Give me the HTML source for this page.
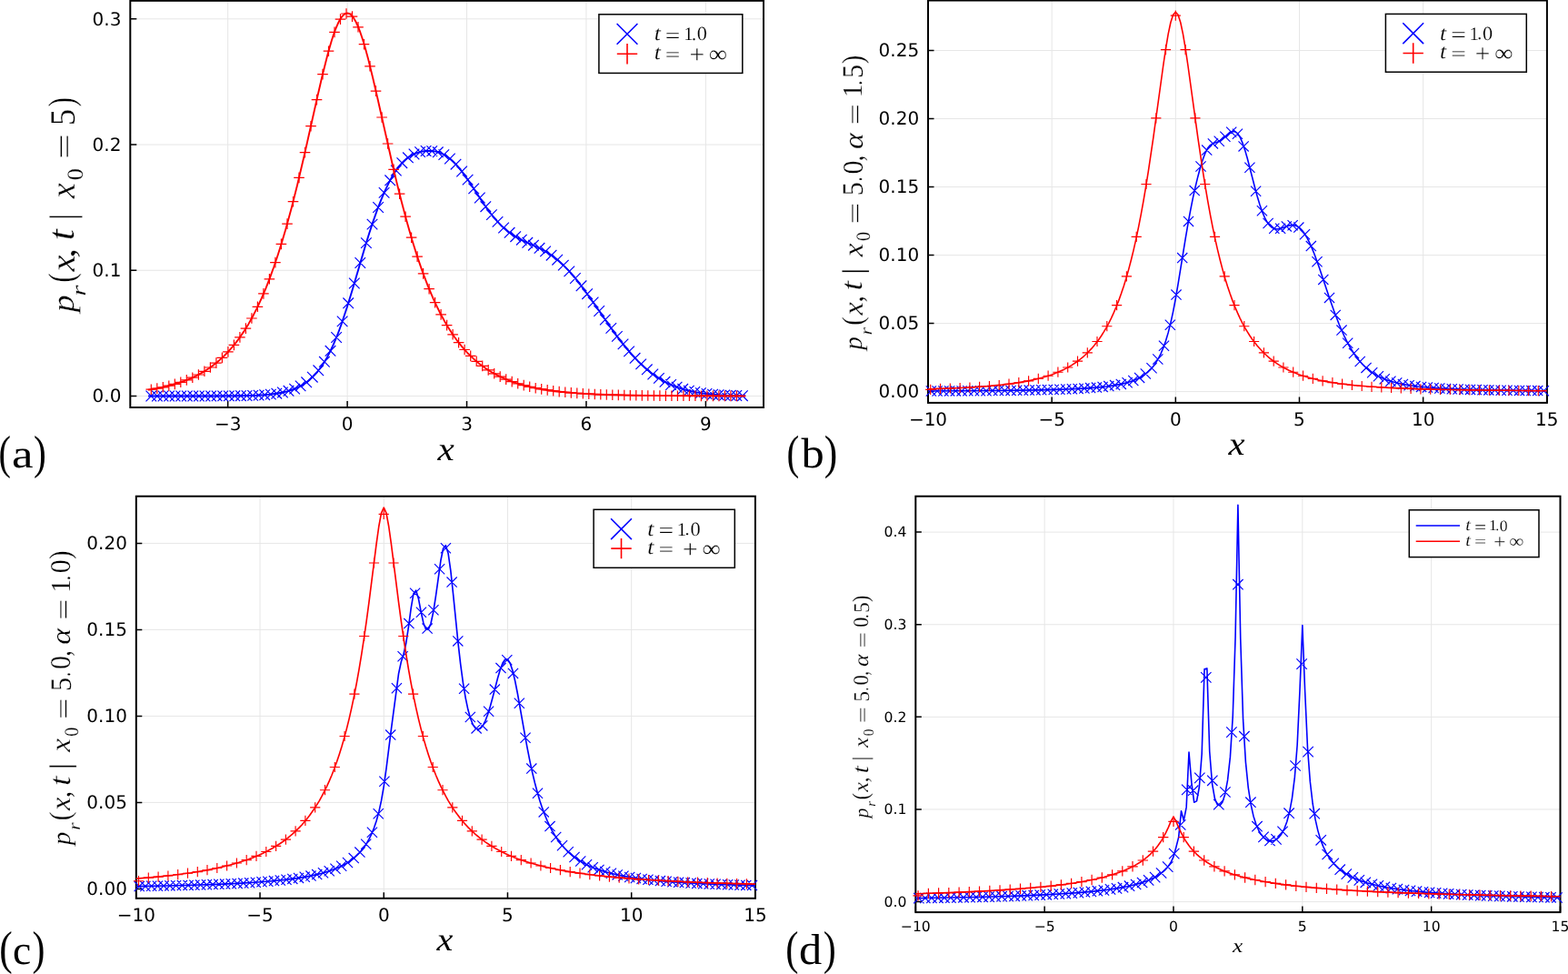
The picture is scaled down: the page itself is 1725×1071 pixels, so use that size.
<!DOCTYPE html>
<html><head><meta charset="utf-8"><title>Resetting densities</title>
<style>html,body{margin:0;padding:0;background:#fff;overflow:hidden} svg{display:block}</style></head>
<body><svg width="1725" height="1071" viewBox="0 0 1725 1071" text-rendering="geometricPrecision">
<rect width="1725" height="1071" fill="#fff"/>
<g font-family="'DejaVu Sans', 'Liberation Sans', sans-serif"><line x1="250.67" y1="0.8" x2="250.67" y2="448.0" stroke="#e6e6e6" stroke-width="1"/><line x1="382.10" y1="0.8" x2="382.10" y2="448.0" stroke="#e6e6e6" stroke-width="1"/><line x1="513.53" y1="0.8" x2="513.53" y2="448.0" stroke="#e6e6e6" stroke-width="1"/><line x1="644.96" y1="0.8" x2="644.96" y2="448.0" stroke="#e6e6e6" stroke-width="1"/><line x1="776.39" y1="0.8" x2="776.39" y2="448.0" stroke="#e6e6e6" stroke-width="1"/><line x1="143.3" y1="435.50" x2="840.0" y2="435.50" stroke="#e6e6e6" stroke-width="1"/><line x1="143.3" y1="297.28" x2="840.0" y2="297.28" stroke="#e6e6e6" stroke-width="1"/><line x1="143.3" y1="159.06" x2="840.0" y2="159.06" stroke="#e6e6e6" stroke-width="1"/><line x1="143.3" y1="20.84" x2="840.0" y2="20.84" stroke="#e6e6e6" stroke-width="1"/><rect x="143.3" y="0.8" width="696.70" height="447.20" fill="none" stroke="#000" stroke-width="2"/><path d="M250.67 448.0v-7M382.10 448.0v-7M513.53 448.0v-7M644.96 448.0v-7M776.39 448.0v-7M143.3 435.50h7M143.3 297.28h7M143.3 159.06h7M143.3 20.84h7" stroke="#000" stroke-width="1.5"/><polyline points="163.05,435.50 232.27,435.47 261.18,435.28 272.36,435.06 281.78,434.73 289.88,434.26 296.89,433.66 304.34,432.71 310.91,431.52 316.82,430.06 322.30,428.27 327.56,426.06 332.38,423.49 336.98,420.47 341.14,417.15 345.08,413.42 349.02,409.04 352.75,404.21 356.47,398.65 359.98,392.68 363.48,385.95 366.99,378.42 370.49,370.07 373.12,363.27 375.97,355.40 381.88,337.57 387.36,319.66 401.81,270.63 406.20,256.53 410.36,243.87 414.96,230.86 419.34,219.55 423.72,209.35 428.10,200.31 430.51,195.84 432.92,191.73 435.33,187.98 437.74,184.59 440.15,181.55 442.56,178.86 444.97,176.48 447.60,174.24 450.22,172.33 453.07,170.60 455.92,169.20 458.77,168.07 461.83,167.14 465.12,166.44 468.41,166.01 471.69,165.86 475.63,166.06 479.36,166.66 483.08,167.71 486.59,169.14 490.09,171.05 493.38,173.28 496.66,175.96 500.17,179.30 502.80,182.11 505.64,185.45 508.71,189.34 511.78,193.51 517.47,201.78 531.93,223.73 536.09,229.69 539.82,234.73 543.98,239.94 547.92,244.43 551.86,248.48 556.03,252.26 559.09,254.74 562.38,257.13 565.88,259.41 569.39,261.45 575.96,264.78 592.83,272.50 597.65,275.02 602.25,277.72 607.06,280.93 611.88,284.57 616.70,288.69 621.30,293.07 625.90,297.88 630.50,303.09 635.32,308.96 640.36,315.47 649.78,328.45 673.87,363.02 681.10,372.82 687.67,381.20 694.90,389.72 701.91,397.19 708.92,403.85 715.93,409.68 720.75,413.22 725.57,416.39 730.39,419.20 735.43,421.79 740.68,424.14 745.94,426.15 751.42,427.92 757.11,429.46 763.03,430.77 769.16,431.87 775.73,432.79 782.96,433.56 790.85,434.18 799.39,434.64 820.20,435.22" fill="none" stroke="#0000ff" stroke-width="1.9" stroke-linejoin="round"/><path d="M160.5 429.7l11.6 11.6M160.5 441.3l11.6 -11.6M167.1 429.7l11.6 11.6M167.1 441.3l11.6 -11.6M173.7 429.7l11.6 11.6M173.7 441.3l11.6 -11.6M180.3 429.7l11.6 11.6M180.3 441.3l11.6 -11.6M186.8 429.7l11.6 11.6M186.8 441.3l11.6 -11.6M193.4 429.7l11.6 11.6M193.4 441.3l11.6 -11.6M200.0 429.7l11.6 11.6M200.0 441.3l11.6 -11.6M206.5 429.7l11.6 11.6M206.5 441.3l11.6 -11.6M213.1 429.7l11.6 11.6M213.1 441.3l11.6 -11.6M219.7 429.7l11.6 11.6M219.7 441.3l11.6 -11.6M226.3 429.7l11.6 11.6M226.3 441.3l11.6 -11.6M232.8 429.6l11.6 11.6M232.8 441.2l11.6 -11.6M239.4 429.6l11.6 11.6M239.4 441.2l11.6 -11.6M246.0 429.6l11.6 11.6M246.0 441.2l11.6 -11.6M252.5 429.5l11.6 11.6M252.5 441.1l11.6 -11.6M259.1 429.4l11.6 11.6M259.1 441.0l11.6 -11.6M265.7 429.3l11.6 11.6M265.7 440.9l11.6 -11.6M272.3 429.1l11.6 11.6M272.3 440.7l11.6 -11.6M278.8 428.8l11.6 11.6M278.8 440.4l11.6 -11.6M285.4 428.4l11.6 11.6M285.4 440.0l11.6 -11.6M292.0 427.8l11.6 11.6M292.0 439.4l11.6 -11.6M298.5 426.9l11.6 11.6M298.5 438.5l11.6 -11.6M305.1 425.7l11.6 11.6M305.1 437.3l11.6 -11.6M311.7 424.0l11.6 11.6M311.7 435.6l11.6 -11.6M318.3 421.8l11.6 11.6M318.3 433.4l11.6 -11.6M324.8 418.6l11.6 11.6M324.8 430.2l11.6 -11.6M331.4 414.5l11.6 11.6M331.4 426.1l11.6 -11.6M338.0 408.9l11.6 11.6M338.0 420.5l11.6 -11.6M344.5 401.5l11.6 11.6M344.5 413.1l11.6 -11.6M351.1 392.0l11.6 11.6M351.1 403.6l11.6 -11.6M357.7 380.0l11.6 11.6M357.7 391.6l11.6 -11.6M364.3 365.2l11.6 11.6M364.3 376.8l11.6 -11.6M370.8 347.6l11.6 11.6M370.8 359.2l11.6 -11.6M377.4 327.5l11.6 11.6M377.4 339.1l11.6 -11.6M384.0 305.7l11.6 11.6M384.0 317.3l11.6 -11.6M390.5 283.2l11.6 11.6M390.5 294.8l11.6 -11.6M397.1 261.3l11.6 11.6M397.1 272.9l11.6 -11.6M403.7 240.8l11.6 11.6M403.7 252.4l11.6 -11.6M410.3 222.2l11.6 11.6M410.3 233.8l11.6 -11.6M416.8 206.1l11.6 11.6M416.8 217.7l11.6 -11.6M423.4 192.5l11.6 11.6M423.4 204.1l11.6 -11.6M430.0 181.7l11.6 11.6M430.0 193.3l11.6 -11.6M436.5 173.4l11.6 11.6M436.5 185.0l11.6 -11.6M443.1 167.5l11.6 11.6M443.1 179.1l11.6 -11.6M449.7 163.7l11.6 11.6M449.7 175.3l11.6 -11.6M456.3 161.3l11.6 11.6M456.3 172.9l11.6 -11.6M462.8 160.2l11.6 11.6M462.8 171.8l11.6 -11.6M469.4 160.3l11.6 11.6M469.4 171.9l11.6 -11.6M476.0 161.5l11.6 11.6M476.0 173.1l11.6 -11.6M482.5 164.3l11.6 11.6M482.5 175.9l11.6 -11.6M489.1 168.7l11.6 11.6M489.1 180.3l11.6 -11.6M495.7 174.9l11.6 11.6M495.7 186.5l11.6 -11.6M502.3 182.7l11.6 11.6M502.3 194.3l11.6 -11.6M508.8 191.8l11.6 11.6M508.8 203.4l11.6 -11.6M515.4 201.6l11.6 11.6M515.4 213.2l11.6 -11.6M522.0 211.7l11.6 11.6M522.0 223.3l11.6 -11.6M528.5 221.4l11.6 11.6M528.5 233.0l11.6 -11.6M535.1 230.3l11.6 11.6M535.1 241.9l11.6 -11.6M541.7 238.1l11.6 11.6M541.7 249.7l11.6 -11.6M548.3 244.7l11.6 11.6M548.3 256.3l11.6 -11.6M554.8 250.0l11.6 11.6M554.8 261.6l11.6 -11.6M561.4 254.4l11.6 11.6M561.4 266.0l11.6 -11.6M568.0 257.9l11.6 11.6M568.0 269.5l11.6 -11.6M574.5 261.0l11.6 11.6M574.5 272.6l11.6 -11.6M581.1 263.9l11.6 11.6M581.1 275.5l11.6 -11.6M587.7 267.0l11.6 11.6M587.7 278.6l11.6 -11.6M594.3 270.6l11.6 11.6M594.3 282.2l11.6 -11.6M600.8 274.9l11.6 11.6M600.8 286.5l11.6 -11.6M607.4 279.9l11.6 11.6M607.4 291.5l11.6 -11.6M614.0 285.8l11.6 11.6M614.0 297.4l11.6 -11.6M620.5 292.6l11.6 11.6M620.5 304.2l11.6 -11.6M627.1 300.2l11.6 11.6M627.1 311.8l11.6 -11.6M633.7 308.5l11.6 11.6M633.7 320.1l11.6 -11.6M640.3 317.4l11.6 11.6M640.3 329.0l11.6 -11.6M646.8 326.7l11.6 11.6M646.8 338.3l11.6 -11.6M653.4 336.2l11.6 11.6M653.4 347.8l11.6 -11.6M660.0 345.7l11.6 11.6M660.0 357.3l11.6 -11.6M666.5 355.1l11.6 11.6M666.5 366.7l11.6 -11.6M673.1 364.1l11.6 11.6M673.1 375.7l11.6 -11.6M679.7 372.6l11.6 11.6M679.7 384.2l11.6 -11.6M686.3 380.6l11.6 11.6M686.3 392.2l11.6 -11.6M692.8 388.0l11.6 11.6M692.8 399.6l11.6 -11.6M699.4 394.6l11.6 11.6M699.4 406.2l11.6 -11.6M706.0 400.5l11.6 11.6M706.0 412.1l11.6 -11.6M712.5 405.7l11.6 11.6M712.5 417.3l11.6 -11.6M719.1 410.1l11.6 11.6M719.1 421.7l11.6 -11.6M725.7 414.0l11.6 11.6M725.7 425.6l11.6 -11.6M732.3 417.2l11.6 11.6M732.3 428.8l11.6 -11.6M738.8 419.9l11.6 11.6M738.8 431.5l11.6 -11.6M745.4 422.0l11.6 11.6M745.4 433.6l11.6 -11.6M752.0 423.8l11.6 11.6M752.0 435.4l11.6 -11.6M758.5 425.2l11.6 11.6M758.5 436.8l11.6 -11.6M765.1 426.3l11.6 11.6M765.1 437.9l11.6 -11.6M771.7 427.2l11.6 11.6M771.7 438.8l11.6 -11.6M778.3 427.9l11.6 11.6M778.3 439.5l11.6 -11.6M784.8 428.4l11.6 11.6M784.8 440.0l11.6 -11.6M791.4 428.7l11.6 11.6M791.4 440.3l11.6 -11.6M798.0 429.0l11.6 11.6M798.0 440.6l11.6 -11.6M804.5 429.2l11.6 11.6M804.5 440.8l11.6 -11.6M811.1 429.4l11.6 11.6M811.1 441.0l11.6 -11.6" stroke="#0000ff" stroke-width="1.2" fill="none"/><polyline points="163.05,428.77 173.78,426.91 183.64,424.76 192.84,422.27 201.60,419.37 209.93,416.04 217.59,412.38 224.82,408.31 231.83,403.69 238.62,398.50 244.97,392.90 251.11,386.72 257.02,379.95 262.72,372.58 268.19,364.64 273.45,356.13 278.71,346.69 283.31,337.58 287.91,327.65 292.51,316.81 296.89,305.62 301.27,293.54 305.65,280.53 310.03,266.57 314.19,252.43 320.55,229.18 327.12,203.15 335.00,169.67 349.02,107.21 354.28,84.49 359.98,61.68 362.39,52.88 364.80,44.75 367.20,37.37 369.40,31.42 371.59,26.26 373.78,21.96 375.97,18.60 377.94,16.41 379.03,15.55 380.13,14.94 381.22,14.60 382.10,14.52 383.20,14.65 384.29,15.04 385.39,15.70 386.48,16.61 387.58,17.78 388.67,19.19 391.08,23.15 393.49,28.22 395.90,34.30 398.53,41.97 401.16,50.59 405.32,65.87 410.14,85.41 415.18,107.21 431.17,178.23 436.64,201.35 441.68,221.58 447.60,243.84 453.29,263.67 458.99,281.87 464.90,299.09 470.82,314.65 476.95,329.12 480.02,335.76 483.30,342.45 486.37,348.33 489.65,354.25 492.94,359.79 496.44,365.31 499.95,370.45 503.45,375.23 506.96,379.68 510.68,384.06 514.41,388.11 518.35,392.06 522.51,395.89 526.67,399.39 531.05,402.75 535.44,405.80 540.04,408.71 544.85,411.45 549.67,413.92 554.71,416.23 559.97,418.39 565.44,420.38 571.14,422.20 577.05,423.87 583.19,425.38 589.76,426.78 596.77,428.06 604.00,429.19 618.45,430.96 634.66,432.36 653.06,433.44 674.31,434.23 698.63,434.77 728.64,435.13 820.20,435.45" fill="none" stroke="#ff0000" stroke-width="1.9" stroke-linejoin="round"/><path d="M160.5 428.2h11.6M166.3 422.4v11.6M167.0 427.1h11.6M172.8 421.3v11.6M173.5 425.8h11.6M179.3 420.0v11.6M180.0 424.2h11.6M185.8 418.4v11.6M186.5 422.4h11.6M192.3 416.6v11.6M193.0 420.3h11.6M198.8 414.5v11.6M199.5 417.9h11.6M205.3 412.1v11.6M206.0 415.2h11.6M211.8 409.4v11.6M212.6 412.0h11.6M218.4 406.2v11.6M219.1 408.3h11.6M224.9 402.5v11.6M225.6 404.0h11.6M231.4 398.2v11.6M232.1 399.1h11.6M237.9 393.3v11.6M238.6 393.4h11.6M244.4 387.6v11.6M245.1 386.9h11.6M250.9 381.1v11.6M251.6 379.4h11.6M257.4 373.6v11.6M258.1 370.9h11.6M263.9 365.1v11.6M264.6 361.1h11.6M270.4 355.3v11.6M271.1 350.0h11.6M276.9 344.2v11.6M277.6 337.3h11.6M283.4 331.5v11.6M284.1 322.9h11.6M289.9 317.1v11.6M290.6 306.8h11.6M296.4 301.0v11.6M297.1 288.6h11.6M302.9 282.8v11.6M303.6 268.4h11.6M309.4 262.6v11.6M310.2 246.1h11.6M316.0 240.3v11.6M316.7 221.7h11.6M322.5 215.9v11.6M323.2 195.4h11.6M329.0 189.6v11.6M329.7 167.6h11.6M335.5 161.8v11.6M336.2 138.7h11.6M342.0 132.9v11.6M342.7 109.6h11.6M348.5 103.8v11.6M349.2 81.6h11.6M355.0 75.8v11.6M355.7 56.2h11.6M361.5 50.4v11.6M362.2 35.4h11.6M368.0 29.6v11.6M368.7 21.1h11.6M374.5 15.3v11.6M375.2 15.0h11.6M381.0 9.2v11.6M381.7 18.1h11.6M387.5 12.3v11.6M388.2 29.8h11.6M394.0 24.0v11.6M394.7 48.7h11.6M400.5 42.9v11.6M401.2 72.8h11.6M407.0 67.0v11.6M407.7 100.1h11.6M413.5 94.3v11.6M414.3 129.0h11.6M420.1 123.2v11.6M420.8 158.0h11.6M426.6 152.2v11.6M427.3 186.3h11.6M433.1 180.5v11.6M433.8 213.2h11.6M439.6 207.4v11.6M440.3 238.2h11.6M446.1 232.4v11.6M446.8 261.2h11.6M452.6 255.4v11.6M453.3 282.1h11.6M459.1 276.3v11.6M459.8 300.9h11.6M465.6 295.1v11.6M466.3 317.7h11.6M472.1 311.9v11.6M472.8 332.7h11.6M478.6 326.9v11.6M479.3 345.9h11.6M485.1 340.1v11.6M485.8 357.6h11.6M491.6 351.8v11.6M492.3 367.8h11.6M498.1 362.0v11.6M498.8 376.7h11.6M504.6 370.9v11.6M505.3 384.5h11.6M511.1 378.7v11.6M511.9 391.4h11.6M517.7 385.6v11.6M518.4 397.3h11.6M524.2 391.5v11.6M524.9 402.4h11.6M530.7 396.6v11.6M531.4 406.9h11.6M537.2 401.1v11.6M537.9 410.8h11.6M543.7 405.0v11.6M544.4 414.1h11.6M550.2 408.3v11.6M550.9 417.1h11.6M556.7 411.3v11.6M557.4 419.6h11.6M563.2 413.8v11.6M563.9 421.8h11.6M569.7 416.0v11.6M570.4 423.6h11.6M576.2 417.8v11.6M576.9 425.3h11.6M582.7 419.5v11.6M583.4 426.7h11.6M589.2 420.9v11.6M589.9 427.9h11.6M595.7 422.1v11.6M596.4 428.9h11.6M602.2 423.1v11.6M602.9 429.8h11.6M608.7 424.0v11.6M609.4 430.6h11.6M615.2 424.8v11.6M616.0 431.3h11.6M621.8 425.5v11.6M622.5 431.9h11.6M628.3 426.1v11.6M629.0 432.4h11.6M634.8 426.6v11.6M635.5 432.8h11.6M641.3 427.0v11.6M642.0 433.2h11.6M647.8 427.4v11.6M648.5 433.5h11.6M654.3 427.7v11.6M655.0 433.8h11.6M660.8 428.0v11.6M661.5 434.0h11.6M667.3 428.2v11.6M668.0 434.2h11.6M673.8 428.4v11.6M674.5 434.4h11.6M680.3 428.6v11.6M681.0 434.5h11.6M686.8 428.7v11.6M687.5 434.7h11.6M693.3 428.9v11.6M694.0 434.8h11.6M699.8 429.0v11.6M700.5 434.9h11.6M706.3 429.1v11.6M707.0 435.0h11.6M712.8 429.2v11.6M713.6 435.0h11.6M719.4 429.2v11.6M720.1 435.1h11.6M725.9 429.3v11.6M726.6 435.2h11.6M732.4 429.4v11.6M733.1 435.2h11.6M738.9 429.4v11.6M739.6 435.2h11.6M745.4 429.4v11.6M746.1 435.3h11.6M751.9 429.5v11.6M752.6 435.3h11.6M758.4 429.5v11.6M759.1 435.3h11.6M764.9 429.5v11.6M765.6 435.4h11.6M771.4 429.6v11.6M772.1 435.4h11.6M777.9 429.6v11.6M778.6 435.4h11.6M784.4 429.6v11.6M785.1 435.4h11.6M790.9 429.6v11.6M791.6 435.4h11.6M797.4 429.6v11.6M798.1 435.4h11.6M803.9 429.6v11.6M804.6 435.4h11.6M810.4 429.6v11.6" stroke="#ff0000" stroke-width="1.2" fill="none"/><text transform="translate(250.67 472.70)" text-anchor="middle" font-size="20">−3</text><text transform="translate(382.10 472.70)" text-anchor="middle" font-size="20">0</text><text transform="translate(513.53 472.70)" text-anchor="middle" font-size="20">3</text><text transform="translate(644.96 472.70)" text-anchor="middle" font-size="20">6</text><text transform="translate(776.39 472.70)" text-anchor="middle" font-size="20">9</text><text transform="translate(133.40 442.30)" text-anchor="end" font-size="20">0.0</text><text transform="translate(133.40 304.08)" text-anchor="end" font-size="20">0.1</text><text transform="translate(133.40 165.86)" text-anchor="end" font-size="20">0.2</text><text transform="translate(133.40 27.64)" text-anchor="end" font-size="20">0.3</text></g><rect x="658.9" y="15.8" width="157.90" height="64.60" fill="#fff" stroke="#000" stroke-width="1.5"/><path d="M678.6 26.0l22.8 22.8M678.6 48.8l22.8 -22.8" stroke="#0000ff" stroke-width="1.6" fill="none"/><path d="M678.8 59.3h22.4M690.0 48.1v22.4" stroke="#ff0000" stroke-width="1.6" fill="none"/><g font-family="'Liberation Serif', 'DejaVu Serif', serif" font-size="100" stroke="#fff" stroke-width="0.8"><text transform="translate(720.70 31.30) scale(0.2538 0.2281) translate(-4 56)" font-style="italic">t</text><text transform="translate(733.30 35.70) scale(0.2936 0.2400) translate(-5 46)">=</text><text transform="translate(754.10 30.20) scale(0.2086 0.2091) translate(-9 66)">1</text><text transform="translate(762.20 41.70) scale(0.2000 0.1917) translate(-6 11)">.</text><text transform="translate(767.70 30.00) scale(0.2238 0.2176) translate(-4 66)">0</text><text transform="translate(720.70 51.90) scale(0.2538 0.2281) translate(-4 56)" font-style="italic">t</text><text transform="translate(733.30 56.60) scale(0.2936 0.2160) translate(-5 46)">=</text><text transform="translate(759.90 52.90) scale(0.2936 0.2787) translate(-5 57)">+</text><text transform="translate(781.00 55.00) scale(0.2844 0.2605) translate(-4 48)">∞</text></g><g font-family="'DejaVu Sans', 'Liberation Sans', sans-serif"><line x1="1021.00" y1="0.5" x2="1021.00" y2="442.9" stroke="#e6e6e6" stroke-width="1"/><line x1="1157.16" y1="0.5" x2="1157.16" y2="442.9" stroke="#e6e6e6" stroke-width="1"/><line x1="1293.32" y1="0.5" x2="1293.32" y2="442.9" stroke="#e6e6e6" stroke-width="1"/><line x1="1429.48" y1="0.5" x2="1429.48" y2="442.9" stroke="#e6e6e6" stroke-width="1"/><line x1="1565.64" y1="0.5" x2="1565.64" y2="442.9" stroke="#e6e6e6" stroke-width="1"/><line x1="1701.80" y1="0.5" x2="1701.80" y2="442.9" stroke="#e6e6e6" stroke-width="1"/><line x1="1021.0" y1="430.60" x2="1701.9" y2="430.60" stroke="#e6e6e6" stroke-width="1"/><line x1="1021.0" y1="355.59" x2="1701.9" y2="355.59" stroke="#e6e6e6" stroke-width="1"/><line x1="1021.0" y1="280.58" x2="1701.9" y2="280.58" stroke="#e6e6e6" stroke-width="1"/><line x1="1021.0" y1="205.57" x2="1701.9" y2="205.57" stroke="#e6e6e6" stroke-width="1"/><line x1="1021.0" y1="130.56" x2="1701.9" y2="130.56" stroke="#e6e6e6" stroke-width="1"/><line x1="1021.0" y1="55.55" x2="1701.9" y2="55.55" stroke="#e6e6e6" stroke-width="1"/><rect x="1021.0" y="0.5" width="680.90" height="442.40" fill="none" stroke="#000" stroke-width="2"/><path d="M1021.00 442.9v-6.5M1157.16 442.9v-6.5M1293.32 442.9v-6.5M1429.48 442.9v-6.5M1565.64 442.9v-6.5M1701.80 442.9v-6.5M1021.0 430.60h6.5M1021.0 355.59h6.5M1021.0 280.58h6.5M1021.0 205.57h6.5M1021.0 130.56h6.5M1021.0 55.55h6.5" stroke="#000" stroke-width="1.5"/><polyline points="1021.00,430.04 1094.53,429.57 1143.54,428.85 1162.61,428.37 1178.95,427.77 1192.56,427.08 1206.18,426.11 1217.07,425.00 1225.24,423.87 1233.41,422.37 1241.58,420.29 1247.03,418.43 1252.47,416.02 1255.20,414.54 1257.92,412.84 1260.64,410.86 1263.36,408.55 1266.09,405.84 1268.81,402.65 1271.53,398.87 1274.26,394.37 1276.98,389.02 1279.70,382.63 1282.43,374.99 1285.15,365.89 1287.87,355.13 1290.60,342.58 1293.32,328.26 1296.04,312.48 1304.21,262.15 1306.94,246.19 1309.66,231.28 1312.38,217.68 1315.11,205.37 1317.83,194.17 1320.55,184.04 1323.28,175.20 1326.00,168.06 1328.72,162.88 1331.44,159.62 1334.17,157.85 1339.61,156.01 1342.34,154.75 1345.06,152.87 1350.51,147.91 1353.23,145.70 1355.95,144.42 1358.68,144.59 1361.40,146.63 1364.12,150.73 1366.85,156.89 1369.57,164.87 1372.29,174.30 1380.46,206.01 1383.19,216.01 1385.91,225.04 1388.63,232.85 1391.36,239.28 1394.08,244.31 1396.80,247.95 1399.52,250.32 1402.25,251.58 1404.97,251.93 1407.69,251.57 1410.42,250.76 1415.86,248.70 1418.59,247.89 1421.31,247.50 1424.03,247.71 1426.76,248.63 1429.48,250.38 1432.20,253.01 1434.93,256.56 1437.65,260.99 1440.37,266.28 1443.10,272.33 1445.82,279.06 1451.27,294.04 1462.16,326.45 1467.60,342.00 1473.05,356.23 1475.77,362.73 1478.50,368.78 1481.22,374.38 1483.94,379.53 1486.67,384.24 1489.39,388.53 1492.11,392.42 1494.84,395.93 1497.56,399.10 1500.28,401.95 1503.01,404.51 1505.73,406.80 1508.45,408.86 1511.18,410.70 1516.62,413.84 1522.07,416.37 1527.52,418.42 1532.96,420.09 1541.13,422.05 1549.30,423.54 1560.19,425.01 1571.09,426.07 1581.98,426.87 1595.60,427.61 1611.93,428.24 1650.06,429.13 1701.80,429.72" fill="none" stroke="#0000ff" stroke-width="1.6" stroke-linejoin="round"/><path d="M1018.8 424.4l11.2 11.2M1018.8 435.6l11.2 -11.2M1025.5 424.4l11.2 11.2M1025.5 435.6l11.2 -11.2M1032.3 424.4l11.2 11.2M1032.3 435.6l11.2 -11.2M1039.0 424.3l11.2 11.2M1039.0 435.5l11.2 -11.2M1045.7 424.3l11.2 11.2M1045.7 435.5l11.2 -11.2M1052.5 424.3l11.2 11.2M1052.5 435.5l11.2 -11.2M1059.2 424.2l11.2 11.2M1059.2 435.4l11.2 -11.2M1066.0 424.2l11.2 11.2M1066.0 435.4l11.2 -11.2M1072.7 424.1l11.2 11.2M1072.7 435.3l11.2 -11.2M1079.4 424.1l11.2 11.2M1079.4 435.3l11.2 -11.2M1086.2 424.0l11.2 11.2M1086.2 435.2l11.2 -11.2M1092.9 423.9l11.2 11.2M1092.9 435.1l11.2 -11.2M1099.7 423.9l11.2 11.2M1099.7 435.1l11.2 -11.2M1106.4 423.8l11.2 11.2M1106.4 435.0l11.2 -11.2M1113.1 423.7l11.2 11.2M1113.1 434.9l11.2 -11.2M1119.9 423.6l11.2 11.2M1119.9 434.8l11.2 -11.2M1126.6 423.5l11.2 11.2M1126.6 434.7l11.2 -11.2M1133.4 423.3l11.2 11.2M1133.4 434.5l11.2 -11.2M1140.1 423.2l11.2 11.2M1140.1 434.4l11.2 -11.2M1146.8 423.0l11.2 11.2M1146.8 434.2l11.2 -11.2M1153.6 422.9l11.2 11.2M1153.6 434.1l11.2 -11.2M1160.3 422.7l11.2 11.2M1160.3 433.9l11.2 -11.2M1167.1 422.4l11.2 11.2M1167.1 433.6l11.2 -11.2M1173.8 422.2l11.2 11.2M1173.8 433.4l11.2 -11.2M1180.5 421.8l11.2 11.2M1180.5 433.0l11.2 -11.2M1187.3 421.5l11.2 11.2M1187.3 432.7l11.2 -11.2M1194.0 421.0l11.2 11.2M1194.0 432.2l11.2 -11.2M1200.8 420.5l11.2 11.2M1200.8 431.7l11.2 -11.2M1207.5 419.8l11.2 11.2M1207.5 431.0l11.2 -11.2M1214.2 419.0l11.2 11.2M1214.2 430.2l11.2 -11.2M1221.0 418.0l11.2 11.2M1221.0 429.2l11.2 -11.2M1227.7 416.8l11.2 11.2M1227.7 428.0l11.2 -11.2M1234.5 415.1l11.2 11.2M1234.5 426.3l11.2 -11.2M1241.2 412.9l11.2 11.2M1241.2 424.1l11.2 -11.2M1248.0 409.8l11.2 11.2M1248.0 421.0l11.2 -11.2M1254.7 405.4l11.2 11.2M1254.7 416.6l11.2 -11.2M1261.4 399.1l11.2 11.2M1261.4 410.3l11.2 -11.2M1268.2 389.4l11.2 11.2M1268.2 400.6l11.2 -11.2M1274.9 374.6l11.2 11.2M1274.9 385.8l11.2 -11.2M1281.7 351.7l11.2 11.2M1281.7 362.9l11.2 -11.2M1288.4 318.5l11.2 11.2M1288.4 329.7l11.2 -11.2M1295.1 278.0l11.2 11.2M1295.1 289.2l11.2 -11.2M1301.9 237.8l11.2 11.2M1301.9 249.0l11.2 -11.2M1308.6 204.0l11.2 11.2M1308.6 215.2l11.2 -11.2M1315.4 177.4l11.2 11.2M1315.4 188.6l11.2 -11.2M1322.1 159.5l11.2 11.2M1322.1 170.7l11.2 -11.2M1328.8 152.3l11.2 11.2M1328.8 163.5l11.2 -11.2M1335.6 149.6l11.2 11.2M1335.6 160.8l11.2 -11.2M1342.3 144.7l11.2 11.2M1342.3 155.9l11.2 -11.2M1349.1 139.6l11.2 11.2M1349.1 150.8l11.2 -11.2M1355.8 141.6l11.2 11.2M1355.8 152.8l11.2 -11.2M1362.5 155.3l11.2 11.2M1362.5 166.5l11.2 -11.2M1369.3 178.6l11.2 11.2M1369.3 189.8l11.2 -11.2M1376.0 204.6l11.2 11.2M1376.0 215.8l11.2 -11.2M1382.8 226.2l11.2 11.2M1382.8 237.4l11.2 -11.2M1389.5 239.9l11.2 11.2M1389.5 251.1l11.2 -11.2M1396.2 245.6l11.2 11.2M1396.2 256.8l11.2 -11.2M1403.0 245.7l11.2 11.2M1403.0 256.9l11.2 -11.2M1409.7 243.3l11.2 11.2M1409.7 254.5l11.2 -11.2M1416.5 242.1l11.2 11.2M1416.5 253.3l11.2 -11.2M1423.2 244.5l11.2 11.2M1423.2 255.7l11.2 -11.2M1429.9 252.1l11.2 11.2M1429.9 263.3l11.2 -11.2M1436.7 265.0l11.2 11.2M1436.7 276.2l11.2 -11.2M1443.4 282.2l11.2 11.2M1443.4 293.4l11.2 -11.2M1450.2 301.8l11.2 11.2M1450.2 313.0l11.2 -11.2M1456.9 321.8l11.2 11.2M1456.9 333.0l11.2 -11.2M1463.6 340.8l11.2 11.2M1463.6 352.0l11.2 -11.2M1470.4 357.5l11.2 11.2M1470.4 368.7l11.2 -11.2M1477.1 371.6l11.2 11.2M1477.1 382.8l11.2 -11.2M1483.9 382.9l11.2 11.2M1483.9 394.1l11.2 -11.2M1490.6 391.9l11.2 11.2M1490.6 403.1l11.2 -11.2M1497.4 398.8l11.2 11.2M1497.4 410.0l11.2 -11.2M1504.1 404.1l11.2 11.2M1504.1 415.3l11.2 -11.2M1510.8 408.1l11.2 11.2M1510.8 419.3l11.2 -11.2M1517.6 411.2l11.2 11.2M1517.6 422.4l11.2 -11.2M1524.3 413.6l11.2 11.2M1524.3 424.8l11.2 -11.2M1531.1 415.4l11.2 11.2M1531.1 426.6l11.2 -11.2M1537.8 416.9l11.2 11.2M1537.8 428.1l11.2 -11.2M1544.5 418.1l11.2 11.2M1544.5 429.3l11.2 -11.2M1551.3 419.0l11.2 11.2M1551.3 430.2l11.2 -11.2M1558.0 419.8l11.2 11.2M1558.0 431.0l11.2 -11.2M1564.8 420.4l11.2 11.2M1564.8 431.6l11.2 -11.2M1571.5 420.9l11.2 11.2M1571.5 432.1l11.2 -11.2M1578.2 421.4l11.2 11.2M1578.2 432.6l11.2 -11.2M1585.0 421.8l11.2 11.2M1585.0 433.0l11.2 -11.2M1591.7 422.1l11.2 11.2M1591.7 433.3l11.2 -11.2M1598.5 422.4l11.2 11.2M1598.5 433.6l11.2 -11.2M1605.2 422.6l11.2 11.2M1605.2 433.8l11.2 -11.2M1611.9 422.8l11.2 11.2M1611.9 434.0l11.2 -11.2M1618.7 423.0l11.2 11.2M1618.7 434.2l11.2 -11.2M1625.4 423.2l11.2 11.2M1625.4 434.4l11.2 -11.2M1632.2 423.3l11.2 11.2M1632.2 434.5l11.2 -11.2M1638.9 423.4l11.2 11.2M1638.9 434.6l11.2 -11.2M1645.6 423.6l11.2 11.2M1645.6 434.8l11.2 -11.2M1652.4 423.7l11.2 11.2M1652.4 434.9l11.2 -11.2M1659.1 423.7l11.2 11.2M1659.1 434.9l11.2 -11.2M1665.9 423.8l11.2 11.2M1665.9 435.0l11.2 -11.2M1672.6 423.9l11.2 11.2M1672.6 435.1l11.2 -11.2M1679.3 424.0l11.2 11.2M1679.3 435.2l11.2 -11.2M1686.1 424.0l11.2 11.2M1686.1 435.2l11.2 -11.2M1692.8 424.1l11.2 11.2M1692.8 435.3l11.2 -11.2" stroke="#0000ff" stroke-width="1.15" fill="none"/><polyline points="1021.00,427.84 1045.51,427.01 1067.29,425.94 1086.36,424.64 1102.70,423.09 1116.31,421.38 1129.93,419.11 1140.82,416.75 1146.27,415.34 1151.71,413.73 1157.16,411.91 1162.61,409.83 1170.78,406.15 1176.22,403.23 1178.95,401.61 1184.39,398.00 1187.12,396.00 1192.56,391.51 1195.28,389.01 1200.73,383.40 1203.45,380.25 1206.18,376.86 1208.90,373.19 1211.62,369.23 1214.35,364.94 1217.07,360.29 1219.79,355.27 1222.52,349.83 1225.24,343.93 1227.96,337.54 1230.69,330.61 1233.41,323.10 1236.13,314.97 1238.86,306.16 1241.58,296.61 1244.30,286.28 1247.03,275.12 1249.75,263.06 1252.47,250.07 1255.20,236.10 1257.92,221.11 1260.64,205.11 1263.36,188.10 1268.81,151.29 1279.70,72.25 1282.43,53.91 1285.15,37.70 1287.87,24.73 1290.60,16.22 1293.32,13.24 1296.04,16.22 1298.77,24.73 1301.49,37.70 1304.21,53.91 1306.94,72.25 1317.83,151.29 1323.28,188.10 1326.00,205.11 1328.72,221.11 1331.44,236.10 1334.17,250.07 1336.89,263.06 1339.61,275.12 1342.34,286.28 1345.06,296.61 1347.78,306.16 1350.51,314.97 1353.23,323.10 1355.95,330.61 1358.68,337.54 1361.40,343.93 1364.12,349.83 1366.85,355.27 1369.57,360.29 1372.29,364.94 1375.02,369.23 1377.74,373.19 1380.46,376.86 1383.19,380.25 1388.63,386.31 1391.36,389.01 1396.80,393.84 1399.52,396.00 1404.97,399.87 1407.69,401.61 1413.14,404.74 1418.59,407.46 1424.03,409.83 1429.48,411.91 1434.93,413.73 1440.37,415.34 1445.82,416.75 1451.27,418.00 1459.44,419.62 1473.05,421.76 1489.39,423.66 1505.73,425.06 1527.52,426.39 1552.02,427.41 1579.26,428.19 1611.93,428.81 1652.78,429.32 1701.80,429.69" fill="none" stroke="#ff0000" stroke-width="1.6" stroke-linejoin="round"/><path d="M1018.1 428.4h11.2M1023.7 422.8v11.2M1028.9 427.4h11.2M1034.5 421.8v11.2M1039.7 427.0h11.2M1045.3 421.4v11.2M1050.5 426.5h11.2M1056.1 420.9v11.2M1061.3 426.0h11.2M1066.9 420.4v11.2M1072.0 425.3h11.2M1077.6 419.7v11.2M1082.8 424.5h11.2M1088.4 418.9v11.2M1093.6 423.5h11.2M1099.2 417.9v11.2M1104.4 422.2h11.2M1110.0 416.6v11.2M1115.2 420.7h11.2M1120.8 415.1v11.2M1126.0 418.8h11.2M1131.6 413.2v11.2M1136.7 416.3h11.2M1142.3 410.7v11.2M1147.5 413.2h11.2M1153.1 407.6v11.2M1158.3 409.2h11.2M1163.9 403.6v11.2M1169.1 404.0h11.2M1174.7 398.4v11.2M1179.9 397.1h11.2M1185.5 391.5v11.2M1190.7 387.9h11.2M1196.3 382.3v11.2M1201.4 375.5h11.2M1207.0 369.9v11.2M1212.2 358.7h11.2M1217.8 353.1v11.2M1223.0 335.6h11.2M1228.6 330.0v11.2M1233.8 303.8h11.2M1239.4 298.2v11.2M1244.6 260.4h11.2M1250.2 254.8v11.2M1255.4 202.5h11.2M1261.0 196.9v11.2M1266.2 129.9h11.2M1271.8 124.3v11.2M1276.9 54.6h11.2M1282.5 49.0v11.2M1287.7 17.1h11.2M1293.3 11.5v11.2M1298.5 54.6h11.2M1304.1 49.0v11.2M1309.3 129.9h11.2M1314.9 124.3v11.2M1320.1 202.5h11.2M1325.7 196.9v11.2M1330.9 260.4h11.2M1336.5 254.8v11.2M1341.6 303.8h11.2M1347.2 298.2v11.2M1352.4 335.6h11.2M1358.0 330.0v11.2M1363.2 358.7h11.2M1368.8 353.1v11.2M1374.0 375.5h11.2M1379.6 369.9v11.2M1384.8 387.9h11.2M1390.4 382.3v11.2M1395.6 397.1h11.2M1401.2 391.5v11.2M1406.3 404.0h11.2M1411.9 398.4v11.2M1417.1 409.2h11.2M1422.7 403.6v11.2M1427.9 413.2h11.2M1433.5 407.6v11.2M1438.7 416.3h11.2M1444.3 410.7v11.2M1449.5 418.8h11.2M1455.1 413.2v11.2M1460.3 420.7h11.2M1465.9 415.1v11.2M1471.0 422.2h11.2M1476.6 416.6v11.2M1481.8 423.5h11.2M1487.4 417.9v11.2M1492.6 424.5h11.2M1498.2 418.9v11.2M1503.4 425.3h11.2M1509.0 419.7v11.2M1514.2 426.0h11.2M1519.8 420.4v11.2M1525.0 426.5h11.2M1530.6 420.9v11.2M1535.7 427.0h11.2M1541.3 421.4v11.2M1546.5 427.4h11.2M1552.1 421.8v11.2M1557.3 427.8h11.2M1562.9 422.2v11.2M1568.1 428.1h11.2M1573.7 422.5v11.2M1578.9 428.3h11.2M1584.5 422.7v11.2M1589.7 428.5h11.2M1595.3 422.9v11.2M1600.5 428.7h11.2M1606.1 423.1v11.2M1611.2 428.9h11.2M1616.8 423.3v11.2M1622.0 429.0h11.2M1627.6 423.4v11.2M1632.8 429.2h11.2M1638.4 423.6v11.2M1643.6 429.3h11.2M1649.2 423.7v11.2M1654.4 429.4h11.2M1660.0 423.8v11.2M1665.2 429.5h11.2M1670.8 423.9v11.2M1675.9 429.6h11.2M1681.5 424.0v11.2M1686.7 429.6h11.2M1692.3 424.0v11.2" stroke="#ff0000" stroke-width="1.15" fill="none"/><text transform="translate(1021.00 467.80)" text-anchor="middle" font-size="20">−10</text><text transform="translate(1157.16 467.80)" text-anchor="middle" font-size="20">−5</text><text transform="translate(1293.32 467.80)" text-anchor="middle" font-size="20">0</text><text transform="translate(1429.48 467.80)" text-anchor="middle" font-size="20">5</text><text transform="translate(1565.64 467.80)" text-anchor="middle" font-size="20">10</text><text transform="translate(1701.80 467.80)" text-anchor="middle" font-size="20">15</text><text transform="translate(1011.10 437.40)" text-anchor="end" font-size="20">0.00</text><text transform="translate(1011.10 362.39)" text-anchor="end" font-size="20">0.05</text><text transform="translate(1011.10 287.38)" text-anchor="end" font-size="20">0.10</text><text transform="translate(1011.10 212.37)" text-anchor="end" font-size="20">0.15</text><text transform="translate(1011.10 137.36)" text-anchor="end" font-size="20">0.20</text><text transform="translate(1011.10 62.35)" text-anchor="end" font-size="20">0.25</text></g><rect x="1524.4" y="15.4" width="154.90" height="63.80" fill="#fff" stroke="#000" stroke-width="1.5"/><path d="M1543.3 25.3l22.8 22.8M1543.3 48.1l22.8 -22.8" stroke="#0000ff" stroke-width="1.6" fill="none"/><path d="M1543.5 58.5h22.4M1554.7 47.3v22.4" stroke="#ff0000" stroke-width="1.6" fill="none"/><g font-family="'Liberation Serif', 'DejaVu Serif', serif" font-size="100" stroke="#fff" stroke-width="0.8"><text transform="translate(1585.00 30.90) scale(0.2538 0.2281) translate(-4 56)" font-style="italic">t</text><text transform="translate(1597.60 35.30) scale(0.2936 0.2400) translate(-5 46)">=</text><text transform="translate(1618.40 29.80) scale(0.2086 0.2091) translate(-9 66)">1</text><text transform="translate(1626.50 41.30) scale(0.2000 0.1917) translate(-6 11)">.</text><text transform="translate(1632.00 29.60) scale(0.2238 0.2176) translate(-4 66)">0</text><text transform="translate(1585.00 51.50) scale(0.2538 0.2281) translate(-4 56)" font-style="italic">t</text><text transform="translate(1597.60 56.20) scale(0.2936 0.2160) translate(-5 46)">=</text><text transform="translate(1624.20 52.50) scale(0.2936 0.2787) translate(-5 57)">+</text><text transform="translate(1645.30 54.60) scale(0.2844 0.2605) translate(-4 48)">∞</text></g><g font-family="'DejaVu Sans', 'Liberation Sans', sans-serif"><line x1="149.80" y1="545.7" x2="149.80" y2="987.8" stroke="#e6e6e6" stroke-width="1"/><line x1="286.02" y1="545.7" x2="286.02" y2="987.8" stroke="#e6e6e6" stroke-width="1"/><line x1="422.24" y1="545.7" x2="422.24" y2="987.8" stroke="#e6e6e6" stroke-width="1"/><line x1="558.46" y1="545.7" x2="558.46" y2="987.8" stroke="#e6e6e6" stroke-width="1"/><line x1="694.68" y1="545.7" x2="694.68" y2="987.8" stroke="#e6e6e6" stroke-width="1"/><line x1="830.90" y1="545.7" x2="830.90" y2="987.8" stroke="#e6e6e6" stroke-width="1"/><line x1="149.8" y1="977.40" x2="830.9" y2="977.40" stroke="#e6e6e6" stroke-width="1"/><line x1="149.8" y1="882.40" x2="830.9" y2="882.40" stroke="#e6e6e6" stroke-width="1"/><line x1="149.8" y1="787.40" x2="830.9" y2="787.40" stroke="#e6e6e6" stroke-width="1"/><line x1="149.8" y1="692.40" x2="830.9" y2="692.40" stroke="#e6e6e6" stroke-width="1"/><line x1="149.8" y1="597.40" x2="830.9" y2="597.40" stroke="#e6e6e6" stroke-width="1"/><rect x="149.8" y="545.7" width="681.10" height="442.10" fill="none" stroke="#000" stroke-width="2"/><path d="M149.80 987.8v-6.5M286.02 987.8v-6.5M422.24 987.8v-6.5M558.46 987.8v-6.5M694.68 987.8v-6.5M830.90 987.8v-6.5M149.8 977.40h6.5M149.8 882.40h6.5M149.8 787.40h6.5M149.8 692.40h6.5M149.8 597.40h6.5" stroke="#000" stroke-width="1.5"/><polyline points="149.80,974.63 182.49,974.03 212.46,973.30 239.71,972.38 261.50,971.41 280.57,970.29 296.92,969.04 313.26,967.43 326.89,965.67 337.78,963.87 348.68,961.60 354.13,960.23 359.58,958.66 367.75,955.81 373.20,953.50 375.93,952.18 381.37,949.16 384.10,947.42 386.82,945.49 389.55,943.35 392.27,940.95 395.00,938.24 397.72,935.18 400.44,931.68 403.17,927.64 405.89,922.94 408.62,917.41 411.34,910.80 414.07,902.78 416.79,892.88 419.52,880.43 422.24,864.60 424.96,845.22 430.41,801.82 438.59,740.48 441.31,727.85 444.04,719.17 446.76,706.98 449.48,689.13 452.21,668.61 454.93,652.71 457.66,649.17 460.38,658.20 463.11,672.48 465.83,684.94 468.55,691.90 471.28,692.09 474.00,685.50 476.73,672.78 479.45,655.28 484.90,616.28 487.63,602.98 490.35,599.70 493.07,608.39 495.80,627.44 498.52,652.82 503.97,706.80 506.70,730.54 509.42,750.77 512.15,767.32 514.87,780.33 517.59,790.05 520.32,796.76 523.04,800.69 525.77,802.07 528.49,801.07 531.22,797.83 533.94,792.52 536.66,785.34 539.39,776.55 542.11,766.56 547.56,745.49 550.29,736.17 553.01,729.03 555.74,725.07 558.46,725.03 561.18,729.18 563.91,737.31 566.63,748.73 569.36,762.51 577.53,808.68 580.26,823.37 582.98,837.06 585.70,849.62 588.43,861.01 591.15,871.26 593.88,880.44 596.60,888.64 599.33,895.96 602.05,902.49 604.77,908.33 607.50,913.55 610.22,918.23 612.95,922.43 615.67,926.22 618.40,929.64 621.12,932.73 623.85,935.54 626.57,938.09 632.02,942.55 637.47,946.28 640.19,947.93 645.64,950.85 648.37,952.15 653.81,954.47 661.99,957.39 667.44,959.03 672.88,960.47 683.78,962.88 694.68,964.81 708.30,966.71 724.65,968.46 740.99,969.81 760.07,971.03 781.86,972.09 803.66,972.90 830.90,973.67" fill="none" stroke="#0000ff" stroke-width="1.65" stroke-linejoin="round"/><path d="M147.6 969.0l11.2 11.2M147.6 980.2l11.2 -11.2M154.3 968.9l11.2 11.2M154.3 980.1l11.2 -11.2M161.1 968.7l11.2 11.2M161.1 979.9l11.2 -11.2M167.8 968.6l11.2 11.2M167.8 979.8l11.2 -11.2M174.5 968.5l11.2 11.2M174.5 979.7l11.2 -11.2M181.3 968.3l11.2 11.2M181.3 979.5l11.2 -11.2M188.0 968.2l11.2 11.2M188.0 979.4l11.2 -11.2M194.8 968.0l11.2 11.2M194.8 979.2l11.2 -11.2M201.5 967.8l11.2 11.2M201.5 979.0l11.2 -11.2M208.3 967.7l11.2 11.2M208.3 978.9l11.2 -11.2M215.0 967.5l11.2 11.2M215.0 978.7l11.2 -11.2M221.8 967.2l11.2 11.2M221.8 978.4l11.2 -11.2M228.5 967.0l11.2 11.2M228.5 978.2l11.2 -11.2M235.2 966.7l11.2 11.2M235.2 977.9l11.2 -11.2M242.0 966.5l11.2 11.2M242.0 977.7l11.2 -11.2M248.7 966.2l11.2 11.2M248.7 977.4l11.2 -11.2M255.5 965.8l11.2 11.2M255.5 977.0l11.2 -11.2M262.2 965.5l11.2 11.2M262.2 976.7l11.2 -11.2M269.0 965.1l11.2 11.2M269.0 976.3l11.2 -11.2M275.7 964.6l11.2 11.2M275.7 975.8l11.2 -11.2M282.4 964.2l11.2 11.2M282.4 975.4l11.2 -11.2M289.2 963.6l11.2 11.2M289.2 974.8l11.2 -11.2M295.9 963.0l11.2 11.2M295.9 974.2l11.2 -11.2M302.7 962.4l11.2 11.2M302.7 973.6l11.2 -11.2M309.4 961.6l11.2 11.2M309.4 972.8l11.2 -11.2M316.2 960.8l11.2 11.2M316.2 972.0l11.2 -11.2M322.9 959.8l11.2 11.2M322.9 971.0l11.2 -11.2M329.6 958.7l11.2 11.2M329.6 969.9l11.2 -11.2M336.4 957.5l11.2 11.2M336.4 968.7l11.2 -11.2M343.1 956.0l11.2 11.2M343.1 967.2l11.2 -11.2M349.9 954.2l11.2 11.2M349.9 965.4l11.2 -11.2M356.6 952.2l11.2 11.2M356.6 963.4l11.2 -11.2M363.4 949.7l11.2 11.2M363.4 960.9l11.2 -11.2M370.1 946.7l11.2 11.2M370.1 957.9l11.2 -11.2M376.9 942.9l11.2 11.2M376.9 954.1l11.2 -11.2M383.6 938.0l11.2 11.2M383.6 949.2l11.2 -11.2M390.3 931.5l11.2 11.2M390.3 942.7l11.2 -11.2M397.1 922.6l11.2 11.2M397.1 933.8l11.2 -11.2M403.8 909.7l11.2 11.2M403.8 920.9l11.2 -11.2M410.6 889.1l11.2 11.2M410.6 900.3l11.2 -11.2M417.3 853.6l11.2 11.2M417.3 864.8l11.2 -11.2M424.1 802.5l11.2 11.2M424.1 813.7l11.2 -11.2M430.8 751.1l11.2 11.2M430.8 762.3l11.2 -11.2M437.5 716.1l11.2 11.2M437.5 727.3l11.2 -11.2M444.3 680.0l11.2 11.2M444.3 691.2l11.2 -11.2M451.0 646.7l11.2 11.2M451.0 657.9l11.2 -11.2M457.8 667.7l11.2 11.2M457.8 678.9l11.2 -11.2M464.5 685.5l11.2 11.2M464.5 696.7l11.2 -11.2M471.3 665.2l11.2 11.2M471.3 676.4l11.2 -11.2M478.0 620.2l11.2 11.2M478.0 631.4l11.2 -11.2M484.8 597.2l11.2 11.2M484.8 608.4l11.2 -11.2M491.5 634.5l11.2 11.2M491.5 645.7l11.2 -11.2M498.2 699.3l11.2 11.2M498.2 710.5l11.2 -11.2M505.0 751.7l11.2 11.2M505.0 762.9l11.2 -11.2M511.7 782.9l11.2 11.2M511.7 794.1l11.2 -11.2M518.5 795.3l11.2 11.2M518.5 806.5l11.2 -11.2M525.2 792.3l11.2 11.2M525.2 803.5l11.2 -11.2M532.0 776.6l11.2 11.2M532.0 787.8l11.2 -11.2M538.7 752.5l11.2 11.2M538.7 763.7l11.2 -11.2M545.4 729.0l11.2 11.2M545.4 740.2l11.2 -11.2M552.2 720.1l11.2 11.2M552.2 731.3l11.2 -11.2M558.9 734.8l11.2 11.2M558.9 746.0l11.2 -11.2M565.7 767.7l11.2 11.2M565.7 778.9l11.2 -11.2M572.4 805.6l11.2 11.2M572.4 816.8l11.2 -11.2M579.2 839.5l11.2 11.2M579.2 850.7l11.2 -11.2M585.9 866.6l11.2 11.2M585.9 877.8l11.2 -11.2M592.6 887.3l11.2 11.2M592.6 898.5l11.2 -11.2M599.4 903.0l11.2 11.2M599.4 914.2l11.2 -11.2M606.1 914.9l11.2 11.2M606.1 926.1l11.2 -11.2M612.9 924.1l11.2 11.2M612.9 935.3l11.2 -11.2M619.6 931.2l11.2 11.2M619.6 942.4l11.2 -11.2M626.4 936.9l11.2 11.2M626.4 948.1l11.2 -11.2M633.1 941.4l11.2 11.2M633.1 952.6l11.2 -11.2M639.9 945.1l11.2 11.2M639.9 956.3l11.2 -11.2M646.6 948.2l11.2 11.2M646.6 959.4l11.2 -11.2M653.3 950.8l11.2 11.2M653.3 962.0l11.2 -11.2M660.1 952.9l11.2 11.2M660.1 964.1l11.2 -11.2M666.8 954.7l11.2 11.2M666.8 965.9l11.2 -11.2M673.6 956.3l11.2 11.2M673.6 967.5l11.2 -11.2M680.3 957.7l11.2 11.2M680.3 968.9l11.2 -11.2M687.1 958.9l11.2 11.2M687.1 970.1l11.2 -11.2M693.8 959.9l11.2 11.2M693.8 971.1l11.2 -11.2M700.5 960.8l11.2 11.2M700.5 972.0l11.2 -11.2M707.3 961.6l11.2 11.2M707.3 972.8l11.2 -11.2M714.0 962.4l11.2 11.2M714.0 973.6l11.2 -11.2M720.8 963.0l11.2 11.2M720.8 974.2l11.2 -11.2M727.5 963.6l11.2 11.2M727.5 974.8l11.2 -11.2M734.3 964.1l11.2 11.2M734.3 975.3l11.2 -11.2M741.0 964.6l11.2 11.2M741.0 975.8l11.2 -11.2M747.7 965.0l11.2 11.2M747.7 976.2l11.2 -11.2M754.5 965.4l11.2 11.2M754.5 976.6l11.2 -11.2M761.2 965.8l11.2 11.2M761.2 977.0l11.2 -11.2M768.0 966.1l11.2 11.2M768.0 977.3l11.2 -11.2M774.7 966.4l11.2 11.2M774.7 977.6l11.2 -11.2M781.5 966.7l11.2 11.2M781.5 977.9l11.2 -11.2M788.2 967.0l11.2 11.2M788.2 978.2l11.2 -11.2M795.0 967.2l11.2 11.2M795.0 978.4l11.2 -11.2M801.7 967.4l11.2 11.2M801.7 978.6l11.2 -11.2M808.4 967.6l11.2 11.2M808.4 978.8l11.2 -11.2M815.2 967.8l11.2 11.2M815.2 979.0l11.2 -11.2M821.9 968.0l11.2 11.2M821.9 979.2l11.2 -11.2" stroke="#0000ff" stroke-width="1.15" fill="none"/><polyline points="149.80,966.19 171.60,964.33 190.67,962.30 209.74,959.78 226.08,957.09 239.71,954.36 253.33,951.06 261.50,948.75 266.95,947.03 272.40,945.17 277.85,943.13 283.30,940.91 288.74,938.47 294.19,935.78 299.64,932.82 307.82,927.79 313.26,923.97 315.99,921.90 321.44,917.40 324.16,914.95 329.61,909.61 332.33,906.70 337.78,900.31 340.51,896.81 345.96,889.10 351.41,880.32 354.13,875.46 356.85,870.25 359.58,864.67 362.30,858.68 365.03,852.23 367.75,845.29 370.48,837.82 373.20,829.75 375.93,821.04 378.65,811.61 381.37,801.41 384.10,790.36 386.82,778.39 389.55,765.41 392.27,751.33 395.00,736.09 397.72,719.61 400.44,701.84 403.17,682.80 405.89,662.55 414.07,598.19 416.79,578.76 419.52,564.03 422.24,558.15 424.96,564.03 427.69,578.76 430.41,598.19 438.59,662.55 441.31,682.80 444.04,701.84 446.76,719.61 449.48,736.09 452.21,751.33 454.93,765.41 457.66,778.39 460.38,790.36 463.11,801.41 465.83,811.61 468.55,821.04 471.28,829.75 474.00,837.82 476.73,845.29 479.45,852.23 482.18,858.68 484.90,864.67 487.63,870.25 490.35,875.46 493.07,880.32 498.52,889.10 501.25,893.08 506.70,900.31 509.42,903.60 514.87,909.61 517.59,912.36 523.04,917.40 528.49,921.90 533.94,925.93 539.39,929.55 544.84,932.82 550.29,935.78 555.74,938.47 561.18,940.91 569.36,944.17 574.81,946.12 582.98,948.75 588.43,950.32 596.60,952.46 604.77,954.36 612.95,956.05 621.12,957.57 632.02,959.37 651.09,961.98 672.88,964.33 697.40,966.40 724.65,968.17 757.34,969.79 792.76,971.11 830.90,972.18" fill="none" stroke="#ff0000" stroke-width="1.65" stroke-linejoin="round"/><path d="M146.9 968.7h11.2M152.5 963.1v11.2M157.7 965.1h11.2M163.3 959.5v11.2M168.5 964.1h11.2M174.1 958.5v11.2M179.3 963.0h11.2M184.9 957.4v11.2M190.1 961.7h11.2M195.7 956.1v11.2M200.9 960.2h11.2M206.5 954.6v11.2M211.7 958.6h11.2M217.3 953.0v11.2M222.4 956.7h11.2M228.0 951.1v11.2M233.2 954.5h11.2M238.8 948.9v11.2M244.0 952.0h11.2M249.6 946.4v11.2M254.8 949.0h11.2M260.4 943.4v11.2M265.6 945.6h11.2M271.2 940.0v11.2M276.4 941.4h11.2M282.0 935.8v11.2M287.2 936.5h11.2M292.8 930.9v11.2M298.0 930.4h11.2M303.6 924.8v11.2M308.8 923.1h11.2M314.4 917.5v11.2M319.5 913.9h11.2M325.1 908.3v11.2M330.3 902.4h11.2M335.9 896.8v11.2M341.1 887.8h11.2M346.7 882.2v11.2M351.9 868.7h11.2M357.5 863.1v11.2M362.7 843.5h11.2M368.3 837.9v11.2M373.5 809.5h11.2M379.1 803.9v11.2M384.3 763.1h11.2M389.9 757.5v11.2M395.1 699.5h11.2M400.7 693.9v11.2M405.9 619.0h11.2M411.5 613.4v11.2M416.6 565.4h11.2M422.2 559.8v11.2M427.4 619.0h11.2M433.0 613.4v11.2M438.2 699.5h11.2M443.8 693.9v11.2M449.0 763.1h11.2M454.6 757.5v11.2M459.8 809.5h11.2M465.4 803.9v11.2M470.6 843.5h11.2M476.2 837.9v11.2M481.4 868.7h11.2M487.0 863.1v11.2M492.2 887.8h11.2M497.8 882.2v11.2M502.9 902.4h11.2M508.5 896.8v11.2M513.7 913.9h11.2M519.3 908.3v11.2M524.5 923.1h11.2M530.1 917.5v11.2M535.3 930.4h11.2M540.9 924.8v11.2M546.1 936.5h11.2M551.7 930.9v11.2M556.9 941.4h11.2M562.5 935.8v11.2M567.7 945.6h11.2M573.3 940.0v11.2M578.5 949.0h11.2M584.1 943.4v11.2M589.3 952.0h11.2M594.9 946.4v11.2M600.0 954.5h11.2M605.6 948.9v11.2M610.8 956.7h11.2M616.4 951.1v11.2M621.6 958.6h11.2M627.2 953.0v11.2M632.4 960.2h11.2M638.0 954.6v11.2M643.2 961.7h11.2M648.8 956.1v11.2M654.0 963.0h11.2M659.6 957.4v11.2M664.8 964.1h11.2M670.4 958.5v11.2M675.6 965.1h11.2M681.2 959.5v11.2M686.4 966.0h11.2M692.0 960.4v11.2M697.1 966.8h11.2M702.7 961.2v11.2M707.9 967.5h11.2M713.5 961.9v11.2M718.7 968.1h11.2M724.3 962.5v11.2M729.5 968.7h11.2M735.1 963.1v11.2M740.3 969.3h11.2M745.9 963.7v11.2M751.1 969.8h11.2M756.7 964.2v11.2M761.9 970.2h11.2M767.5 964.6v11.2M772.7 970.6h11.2M778.3 965.0v11.2M783.5 971.0h11.2M789.1 965.4v11.2M794.2 971.3h11.2M799.8 965.7v11.2M805.0 971.7h11.2M810.6 966.1v11.2M815.8 971.9h11.2M821.4 966.3v11.2" stroke="#ff0000" stroke-width="1.15" fill="none"/><text transform="translate(149.80 1012.80)" text-anchor="middle" font-size="20">−10</text><text transform="translate(286.02 1012.80)" text-anchor="middle" font-size="20">−5</text><text transform="translate(422.24 1012.80)" text-anchor="middle" font-size="20">0</text><text transform="translate(558.46 1012.80)" text-anchor="middle" font-size="20">5</text><text transform="translate(694.68 1012.80)" text-anchor="middle" font-size="20">10</text><text transform="translate(830.90 1012.80)" text-anchor="middle" font-size="20">15</text><text transform="translate(139.90 984.20)" text-anchor="end" font-size="20">0.00</text><text transform="translate(139.90 889.20)" text-anchor="end" font-size="20">0.05</text><text transform="translate(139.90 794.20)" text-anchor="end" font-size="20">0.10</text><text transform="translate(139.90 699.20)" text-anchor="end" font-size="20">0.15</text><text transform="translate(139.90 604.20)" text-anchor="end" font-size="20">0.20</text></g><rect x="653.1" y="560.3" width="155.20" height="64.00" fill="#fff" stroke="#000" stroke-width="1.5"/><path d="M672.1 570.3l22.8 22.8M672.1 593.1l22.8 -22.8" stroke="#0000ff" stroke-width="1.6" fill="none"/><path d="M672.3 603.1h22.4M683.5 591.9v22.4" stroke="#ff0000" stroke-width="1.6" fill="none"/><g font-family="'Liberation Serif', 'DejaVu Serif', serif" font-size="100" stroke="#fff" stroke-width="0.8"><text transform="translate(713.30 575.80) scale(0.2538 0.2281) translate(-4 56)" font-style="italic">t</text><text transform="translate(725.90 580.20) scale(0.2936 0.2400) translate(-5 46)">=</text><text transform="translate(746.70 574.70) scale(0.2086 0.2091) translate(-9 66)">1</text><text transform="translate(754.80 586.20) scale(0.2000 0.1917) translate(-6 11)">.</text><text transform="translate(760.30 574.50) scale(0.2238 0.2176) translate(-4 66)">0</text><text transform="translate(713.30 596.40) scale(0.2538 0.2281) translate(-4 56)" font-style="italic">t</text><text transform="translate(725.90 601.10) scale(0.2936 0.2160) translate(-5 46)">=</text><text transform="translate(752.50 597.40) scale(0.2936 0.2787) translate(-5 57)">+</text><text transform="translate(773.60 599.50) scale(0.2844 0.2605) translate(-4 48)">∞</text></g><g font-family="'DejaVu Sans', 'Liberation Sans', sans-serif"><line x1="1007.30" y1="545.7" x2="1007.30" y2="1003.1" stroke="#e6e6e6" stroke-width="1"/><line x1="1149.14" y1="545.7" x2="1149.14" y2="1003.1" stroke="#e6e6e6" stroke-width="1"/><line x1="1290.98" y1="545.7" x2="1290.98" y2="1003.1" stroke="#e6e6e6" stroke-width="1"/><line x1="1432.82" y1="545.7" x2="1432.82" y2="1003.1" stroke="#e6e6e6" stroke-width="1"/><line x1="1574.66" y1="545.7" x2="1574.66" y2="1003.1" stroke="#e6e6e6" stroke-width="1"/><line x1="1716.50" y1="545.7" x2="1716.50" y2="1003.1" stroke="#e6e6e6" stroke-width="1"/><line x1="1007.3" y1="991.60" x2="1716.5" y2="991.60" stroke="#e6e6e6" stroke-width="1"/><line x1="1007.3" y1="889.98" x2="1716.5" y2="889.98" stroke="#e6e6e6" stroke-width="1"/><line x1="1007.3" y1="788.36" x2="1716.5" y2="788.36" stroke="#e6e6e6" stroke-width="1"/><line x1="1007.3" y1="686.74" x2="1716.5" y2="686.74" stroke="#e6e6e6" stroke-width="1"/><line x1="1007.3" y1="585.12" x2="1716.5" y2="585.12" stroke="#e6e6e6" stroke-width="1"/><rect x="1007.3" y="545.7" width="709.20" height="457.40" fill="none" stroke="#000" stroke-width="2"/><path d="M1007.30 1003.1v-6.5M1149.14 1003.1v-6.5M1290.98 1003.1v-6.5M1432.82 1003.1v-6.5M1574.66 1003.1v-6.5M1716.50 1003.1v-6.5M1007.3 991.60h6.5M1007.3 889.98h6.5M1007.3 788.36h6.5M1007.3 686.74h6.5M1007.3 585.12h6.5" stroke="#000" stroke-width="1.5"/><polyline points="1007.30,987.69 1072.55,986.50 1100.91,985.75 1126.45,984.89 1149.14,983.91 1169.00,982.82 1186.02,981.64 1203.04,980.13 1217.22,978.51 1228.57,976.88 1239.92,974.80 1248.43,972.83 1256.94,970.36 1262.61,968.31 1265.45,967.12 1271.12,964.32 1273.96,962.64 1276.80,960.72 1279.63,958.48 1282.47,955.81 1285.31,952.53 1288.14,948.28 1290.98,942.13 1293.82,931.81 1296.65,920.60 1299.49,891.82 1302.33,902.21 1305.16,887.63 1308.00,827.03 1310.84,860.39 1313.67,882.16 1316.51,880.88 1319.35,865.48 1322.18,829.00 1325.02,735.86 1327.86,734.89 1330.70,826.28 1333.53,861.71 1336.37,877.84 1339.21,884.72 1342.04,885.76 1344.88,882.02 1347.72,873.27 1350.55,857.96 1353.39,832.39 1356.23,787.79 1359.06,700.90 1361.90,555.36 1364.74,702.66 1367.57,791.41 1370.41,838.08 1373.25,866.11 1376.08,884.45 1378.92,897.14 1381.76,906.21 1384.59,912.80 1387.43,917.59 1390.27,920.99 1393.10,923.25 1395.94,924.52 1398.78,924.88 1401.62,924.34 1404.45,922.85 1407.29,920.30 1410.13,916.47 1412.96,911.04 1415.80,903.45 1418.64,892.82 1421.47,877.59 1424.31,854.93 1427.15,819.19 1429.98,759.08 1432.82,687.67 1435.66,760.64 1438.49,822.33 1441.33,859.67 1444.17,883.99 1447.00,900.93 1449.84,913.37 1452.68,922.87 1455.51,930.35 1458.35,936.40 1461.19,941.38 1464.02,945.55 1466.86,949.10 1469.70,952.16 1472.54,954.82 1475.37,957.15 1478.21,959.21 1481.05,961.05 1486.72,964.18 1489.56,965.53 1495.23,967.88 1503.74,970.74 1509.41,972.31 1515.09,973.67 1526.43,975.92 1537.78,977.70 1551.97,979.46 1568.99,981.09 1586.01,982.37 1605.86,983.55 1628.56,984.59 1654.09,985.51 1682.46,986.30 1716.50,987.04" fill="none" stroke="#0000ff" stroke-width="1.6" stroke-linejoin="round"/><path d="M1005.1 981.9l11.4 11.4M1005.1 993.3l11.4 -11.4M1012.1 981.8l11.4 11.4M1012.1 993.2l11.4 -11.4M1019.2 981.7l11.4 11.4M1019.2 993.1l11.4 -11.4M1026.2 981.6l11.4 11.4M1026.2 993.0l11.4 -11.4M1033.2 981.5l11.4 11.4M1033.2 992.9l11.4 -11.4M1040.2 981.4l11.4 11.4M1040.2 992.8l11.4 -11.4M1047.2 981.2l11.4 11.4M1047.2 992.6l11.4 -11.4M1054.3 981.1l11.4 11.4M1054.3 992.5l11.4 -11.4M1061.3 980.9l11.4 11.4M1061.3 992.3l11.4 -11.4M1068.3 980.8l11.4 11.4M1068.3 992.2l11.4 -11.4M1075.3 980.6l11.4 11.4M1075.3 992.0l11.4 -11.4M1082.4 980.4l11.4 11.4M1082.4 991.8l11.4 -11.4M1089.4 980.2l11.4 11.4M1089.4 991.6l11.4 -11.4M1096.4 980.0l11.4 11.4M1096.4 991.4l11.4 -11.4M1103.4 979.8l11.4 11.4M1103.4 991.2l11.4 -11.4M1110.4 979.6l11.4 11.4M1110.4 991.0l11.4 -11.4M1117.5 979.3l11.4 11.4M1117.5 990.7l11.4 -11.4M1124.5 979.0l11.4 11.4M1124.5 990.4l11.4 -11.4M1131.5 978.8l11.4 11.4M1131.5 990.2l11.4 -11.4M1138.5 978.4l11.4 11.4M1138.5 989.8l11.4 -11.4M1145.5 978.1l11.4 11.4M1145.5 989.5l11.4 -11.4M1152.6 977.7l11.4 11.4M1152.6 989.1l11.4 -11.4M1159.6 977.3l11.4 11.4M1159.6 988.7l11.4 -11.4M1166.6 976.9l11.4 11.4M1166.6 988.3l11.4 -11.4M1173.6 976.4l11.4 11.4M1173.6 987.8l11.4 -11.4M1180.7 975.9l11.4 11.4M1180.7 987.3l11.4 -11.4M1187.7 975.3l11.4 11.4M1187.7 986.7l11.4 -11.4M1194.7 974.7l11.4 11.4M1194.7 986.1l11.4 -11.4M1201.7 974.0l11.4 11.4M1201.7 985.4l11.4 -11.4M1208.7 973.2l11.4 11.4M1208.7 984.6l11.4 -11.4M1215.8 972.2l11.4 11.4M1215.8 983.6l11.4 -11.4M1222.8 971.2l11.4 11.4M1222.8 982.6l11.4 -11.4M1229.8 970.0l11.4 11.4M1229.8 981.4l11.4 -11.4M1236.8 968.5l11.4 11.4M1236.8 979.9l11.4 -11.4M1243.9 966.8l11.4 11.4M1243.9 978.2l11.4 -11.4M1250.9 964.8l11.4 11.4M1250.9 976.2l11.4 -11.4M1257.9 962.2l11.4 11.4M1257.9 973.6l11.4 -11.4M1264.9 958.9l11.4 11.4M1264.9 970.3l11.4 -11.4M1271.9 954.3l11.4 11.4M1271.9 965.7l11.4 -11.4M1279.0 947.4l11.4 11.4M1279.0 958.8l11.4 -11.4M1286.0 932.9l11.4 11.4M1286.0 944.3l11.4 -11.4M1293.0 901.3l11.4 11.4M1293.0 912.7l11.4 -11.4M1300.0 862.7l11.4 11.4M1300.0 874.1l11.4 -11.4M1307.0 863.5l11.4 11.4M1307.0 874.9l11.4 -11.4M1314.1 849.7l11.4 11.4M1314.1 861.1l11.4 -11.4M1321.1 739.2l11.4 11.4M1321.1 750.6l11.4 -11.4M1328.1 852.6l11.4 11.4M1328.1 864.0l11.4 -11.4M1335.1 878.9l11.4 11.4M1335.1 890.3l11.4 -11.4M1342.2 865.3l11.4 11.4M1342.2 876.7l11.4 -11.4M1349.2 799.4l11.4 11.4M1349.2 810.8l11.4 -11.4M1356.2 637.0l11.4 11.4M1356.2 648.4l11.4 -11.4M1363.2 804.0l11.4 11.4M1363.2 815.4l11.4 -11.4M1370.2 876.5l11.4 11.4M1370.2 887.9l11.4 -11.4M1377.3 903.0l11.4 11.4M1377.3 914.4l11.4 -11.4M1384.3 914.7l11.4 11.4M1384.3 926.1l11.4 -11.4M1391.3 918.8l11.4 11.4M1391.3 930.2l11.4 -11.4M1398.3 917.2l11.4 11.4M1398.3 928.6l11.4 -11.4M1405.4 908.7l11.4 11.4M1405.4 920.1l11.4 -11.4M1412.4 888.5l11.4 11.4M1412.4 899.9l11.4 -11.4M1419.4 836.3l11.4 11.4M1419.4 847.7l11.4 -11.4M1426.4 724.4l11.4 11.4M1426.4 735.8l11.4 -11.4M1433.4 820.9l11.4 11.4M1433.4 832.3l11.4 -11.4M1440.5 889.0l11.4 11.4M1440.5 900.4l11.4 -11.4M1447.5 918.1l11.4 11.4M1447.5 929.5l11.4 -11.4M1454.5 933.8l11.4 11.4M1454.5 945.2l11.4 -11.4M1461.5 943.7l11.4 11.4M1461.5 955.1l11.4 -11.4M1468.5 950.5l11.4 11.4M1468.5 961.9l11.4 -11.4M1475.6 955.4l11.4 11.4M1475.6 966.8l11.4 -11.4M1482.6 959.2l11.4 11.4M1482.6 970.6l11.4 -11.4M1489.6 962.2l11.4 11.4M1489.6 973.6l11.4 -11.4M1496.6 964.6l11.4 11.4M1496.6 976.0l11.4 -11.4M1503.7 966.6l11.4 11.4M1503.7 978.0l11.4 -11.4M1510.7 968.2l11.4 11.4M1510.7 979.6l11.4 -11.4M1517.7 969.7l11.4 11.4M1517.7 981.1l11.4 -11.4M1524.7 970.9l11.4 11.4M1524.7 982.3l11.4 -11.4M1531.7 971.9l11.4 11.4M1531.7 983.3l11.4 -11.4M1538.8 972.9l11.4 11.4M1538.8 984.3l11.4 -11.4M1545.8 973.7l11.4 11.4M1545.8 985.1l11.4 -11.4M1552.8 974.4l11.4 11.4M1552.8 985.8l11.4 -11.4M1559.8 975.1l11.4 11.4M1559.8 986.5l11.4 -11.4M1566.9 975.7l11.4 11.4M1566.9 987.1l11.4 -11.4M1573.9 976.2l11.4 11.4M1573.9 987.6l11.4 -11.4M1580.9 976.7l11.4 11.4M1580.9 988.1l11.4 -11.4M1587.9 977.2l11.4 11.4M1587.9 988.6l11.4 -11.4M1594.9 977.6l11.4 11.4M1594.9 989.0l11.4 -11.4M1602.0 977.9l11.4 11.4M1602.0 989.3l11.4 -11.4M1609.0 978.3l11.4 11.4M1609.0 989.7l11.4 -11.4M1616.0 978.6l11.4 11.4M1616.0 990.0l11.4 -11.4M1623.0 978.9l11.4 11.4M1623.0 990.3l11.4 -11.4M1630.0 979.2l11.4 11.4M1630.0 990.6l11.4 -11.4M1637.1 979.4l11.4 11.4M1637.1 990.8l11.4 -11.4M1644.1 979.7l11.4 11.4M1644.1 991.1l11.4 -11.4M1651.1 979.9l11.4 11.4M1651.1 991.3l11.4 -11.4M1658.1 980.1l11.4 11.4M1658.1 991.5l11.4 -11.4M1665.2 980.3l11.4 11.4M1665.2 991.7l11.4 -11.4M1672.2 980.5l11.4 11.4M1672.2 991.9l11.4 -11.4M1679.2 980.7l11.4 11.4M1679.2 992.1l11.4 -11.4M1686.2 980.8l11.4 11.4M1686.2 992.2l11.4 -11.4M1693.2 981.0l11.4 11.4M1693.2 992.4l11.4 -11.4M1700.3 981.1l11.4 11.4M1700.3 992.5l11.4 -11.4M1707.3 981.3l11.4 11.4M1707.3 992.7l11.4 -11.4" stroke="#0000ff" stroke-width="1.2" fill="none"/><polyline points="1007.30,982.84 1049.85,981.35 1086.73,979.63 1117.94,977.67 1132.12,976.57 1146.30,975.29 1157.65,974.11 1169.00,972.75 1180.34,971.18 1188.86,969.82 1197.37,968.28 1205.88,966.52 1214.39,964.48 1222.90,962.09 1231.41,959.26 1237.08,957.06 1242.75,954.55 1248.43,951.64 1254.10,948.25 1256.94,946.33 1259.78,944.22 1262.61,941.91 1265.45,939.37 1268.29,936.54 1271.12,933.38 1273.96,929.83 1276.80,925.80 1279.63,921.20 1282.47,915.93 1285.31,909.87 1288.14,903.17 1290.98,898.15 1293.82,903.17 1296.65,909.87 1299.49,915.93 1302.33,921.20 1305.16,925.80 1308.00,929.83 1310.84,933.38 1313.67,936.54 1316.51,939.37 1319.35,941.91 1322.18,944.22 1327.86,948.25 1333.53,951.64 1339.21,954.55 1347.72,958.20 1356.23,961.21 1364.74,963.73 1373.25,965.87 1381.76,967.72 1393.10,969.82 1404.45,971.59 1415.80,973.11 1429.98,974.72 1444.17,976.08 1461.19,977.47 1478.21,978.63 1495.23,979.63 1515.09,980.62 1537.78,981.58 1588.84,983.24 1648.42,984.61 1716.50,985.73" fill="none" stroke="#ff0000" stroke-width="1.6" stroke-linejoin="round"/><path d="M1004.4 984.9h11.4M1010.1 979.2v11.4M1015.7 982.4h11.4M1021.4 976.7v11.4M1026.9 982.0h11.4M1032.6 976.3v11.4M1038.1 981.6h11.4M1043.8 975.9v11.4M1049.4 981.1h11.4M1055.1 975.4v11.4M1060.6 980.6h11.4M1066.3 974.9v11.4M1071.8 980.1h11.4M1077.5 974.4v11.4M1083.1 979.5h11.4M1088.8 973.8v11.4M1094.3 978.9h11.4M1100.0 973.2v11.4M1105.5 978.1h11.4M1111.2 972.4v11.4M1116.8 977.3h11.4M1122.5 971.6v11.4M1128.0 976.4h11.4M1133.7 970.7v11.4M1139.2 975.4h11.4M1144.9 969.7v11.4M1150.5 974.3h11.4M1156.2 968.6v11.4M1161.7 972.9h11.4M1167.4 967.2v11.4M1172.9 971.4h11.4M1178.6 965.7v11.4M1184.2 969.6h11.4M1189.9 963.9v11.4M1195.4 967.5h11.4M1201.1 961.8v11.4M1206.6 965.0h11.4M1212.3 959.3v11.4M1217.9 961.9h11.4M1223.6 956.2v11.4M1229.1 957.9h11.4M1234.8 952.2v11.4M1240.3 952.8h11.4M1246.0 947.1v11.4M1251.6 946.0h11.4M1257.3 940.3v11.4M1262.8 936.1h11.4M1268.5 930.4v11.4M1274.0 920.6h11.4M1279.7 914.9v11.4M1285.3 903.3h11.4M1291.0 897.6v11.4M1296.5 920.6h11.4M1302.2 914.9v11.4M1307.7 936.1h11.4M1313.4 930.4v11.4M1319.0 946.0h11.4M1324.7 940.3v11.4M1330.2 952.8h11.4M1335.9 947.1v11.4M1341.4 957.9h11.4M1347.1 952.2v11.4M1352.7 961.9h11.4M1358.4 956.2v11.4M1363.9 965.0h11.4M1369.6 959.3v11.4M1375.1 967.5h11.4M1380.8 961.8v11.4M1386.4 969.6h11.4M1392.1 963.9v11.4M1397.6 971.4h11.4M1403.3 965.7v11.4M1408.9 972.9h11.4M1414.6 967.2v11.4M1420.1 974.3h11.4M1425.8 968.6v11.4M1431.3 975.4h11.4M1437.0 969.7v11.4M1442.6 976.4h11.4M1448.3 970.7v11.4M1453.8 977.3h11.4M1459.5 971.6v11.4M1465.0 978.1h11.4M1470.7 972.4v11.4M1476.3 978.9h11.4M1482.0 973.2v11.4M1487.5 979.5h11.4M1493.2 973.8v11.4M1498.7 980.1h11.4M1504.4 974.4v11.4M1510.0 980.6h11.4M1515.7 974.9v11.4M1521.2 981.1h11.4M1526.9 975.4v11.4M1532.4 981.6h11.4M1538.1 975.9v11.4M1543.7 982.0h11.4M1549.4 976.3v11.4M1554.9 982.4h11.4M1560.6 976.7v11.4M1566.1 982.7h11.4M1571.8 977.0v11.4M1577.4 983.1h11.4M1583.1 977.4v11.4M1588.6 983.4h11.4M1594.3 977.7v11.4M1599.8 983.7h11.4M1605.5 978.0v11.4M1611.1 983.9h11.4M1616.8 978.2v11.4M1622.3 984.2h11.4M1628.0 978.5v11.4M1633.5 984.4h11.4M1639.2 978.7v11.4M1644.8 984.7h11.4M1650.5 979.0v11.4M1656.0 984.9h11.4M1661.7 979.2v11.4M1667.2 985.1h11.4M1672.9 979.4v11.4M1678.5 985.2h11.4M1684.2 979.5v11.4M1689.7 985.4h11.4M1695.4 979.7v11.4M1700.9 985.6h11.4M1706.6 979.9v11.4" stroke="#ff0000" stroke-width="1.2" fill="none"/><text transform="translate(1007.30 1024.40)" text-anchor="middle" font-size="15.6">−10</text><text transform="translate(1149.14 1024.40)" text-anchor="middle" font-size="15.6">−5</text><text transform="translate(1290.98 1024.40)" text-anchor="middle" font-size="15.6">0</text><text transform="translate(1432.82 1024.40)" text-anchor="middle" font-size="15.6">5</text><text transform="translate(1574.66 1024.40)" text-anchor="middle" font-size="15.6">10</text><text transform="translate(1716.50 1024.40)" text-anchor="middle" font-size="15.6">15</text><text transform="translate(997.40 996.82)" text-anchor="end" font-size="15.6">0.0</text><text transform="translate(997.40 895.20)" text-anchor="end" font-size="15.6">0.1</text><text transform="translate(997.40 793.58)" text-anchor="end" font-size="15.6">0.2</text><text transform="translate(997.40 691.96)" text-anchor="end" font-size="15.6">0.3</text><text transform="translate(997.40 590.34)" text-anchor="end" font-size="15.6">0.4</text></g><rect x="1550.3" y="560.8" width="142.70" height="51.80" fill="#fff" stroke="#000" stroke-width="1.5"/><path d="M1557.7 578.1H1606" stroke="#0000ff" stroke-width="1.5"/><path d="M1557.7 595.3H1606" stroke="#ff0000" stroke-width="1.5"/><g font-family="'Liberation Serif', 'DejaVu Serif', serif" font-size="100" stroke="#fff" stroke-width="0.8"><text transform="translate(1613.10 573.29) scale(0.2021 0.1815) translate(-4 56)" font-style="italic">t</text><text transform="translate(1623.13 576.79) scale(0.2337 0.1910) translate(-5 46)">=</text><text transform="translate(1639.69 572.42) scale(0.1660 0.1664) translate(-9 66)">1</text><text transform="translate(1646.13 581.57) scale(0.1592 0.1526) translate(-6 11)">.</text><text transform="translate(1650.51 572.26) scale(0.1782 0.1732) translate(-4 66)">0</text><text transform="translate(1613.10 589.45) scale(0.2021 0.1815) translate(-4 56)" font-style="italic">t</text><text transform="translate(1623.13 593.19) scale(0.2337 0.1719) translate(-5 46)">=</text><text transform="translate(1644.30 590.25) scale(0.2337 0.2219) translate(-5 57)">+</text><text transform="translate(1661.10 591.92) scale(0.2264 0.2074) translate(-4 48)">∞</text></g><g transform="translate(81.4 345.9) rotate(-90)" font-family="'Liberation Serif', 'DejaVu Serif', serif" font-size="100" stroke="#fff" stroke-width="0.8"><text transform="translate(0.30 -17.00) scale(0.3774 0.3485) translate(6 47)" font-style="italic">p</text><text transform="translate(21.50 2.40) scale(0.3143 0.2213) translate(-4 47)" font-style="italic">r</text><text transform="translate(36.50 -28.10) scale(0.3192 0.4067) translate(-4 69)">(</text><text transform="translate(47.00 -17.00) scale(0.4044 0.3826) translate(1 46)" font-style="italic">x</text><text transform="translate(63.50 -3.80) scale(0.4667 0.3962) translate(-4 10)">,</text><text transform="translate(83.40 -23.70) scale(0.4423 0.4175) translate(-4 56)" font-style="italic">t</text><text transform="translate(106.50 -27.90) scale(0.4000 0.4000) translate(-7 70)">|</text><text transform="translate(127.60 -17.00) scale(0.3778 0.3826) translate(1 46)" font-style="italic">x</text><text transform="translate(148.80 -7.30) scale(0.2595 0.2500) translate(-4 66)">0</text><text transform="translate(173.10 -14.60) scale(0.5021 0.3400) translate(-5 46)">=</text><text transform="translate(210.10 -24.90) scale(0.3650 0.3924) translate(-6 65)">5</text><text transform="translate(229.50 -28.10) scale(0.3038 0.4067) translate(-3 69)">)</text></g><g transform="translate(948.4 386.4) rotate(-90)" font-family="'Liberation Serif', 'DejaVu Serif', serif" font-size="100" stroke="#fff" stroke-width="0.8"><text transform="translate(0.00 -13.50) scale(0.2906 0.2882) translate(6 47)" font-style="italic">p</text><text transform="translate(19.10 1.90) scale(0.2143 0.1894) translate(-4 47)" font-style="italic">r</text><text transform="translate(29.80 -22.80) scale(0.2885 0.3322) translate(-4 69)">(</text><text transform="translate(39.60 -13.90) scale(0.3222 0.3130) translate(1 46)" font-style="italic">x</text><text transform="translate(55.00 -3.20) scale(0.3000 0.3346) translate(-4 10)">,</text><text transform="translate(68.40 -19.10) scale(0.3769 0.3368) translate(-4 56)" font-style="italic">t</text><text transform="translate(87.10 -22.80) scale(0.3833 0.3286) translate(-7 70)">|</text><text transform="translate(103.90 -13.90) scale(0.3311 0.3130) translate(1 46)" font-style="italic">x</text><text transform="translate(122.10 -6.00) scale(0.2000 0.2206) translate(-4 66)">0</text><text transform="translate(142.20 -11.10) scale(0.4170 0.2800) translate(-5 46)">=</text><text transform="translate(172.90 -20.50) scale(0.3025 0.3258) translate(-6 65)">5</text><text transform="translate(188.30 -3.20) scale(0.1769 0.2750) translate(-6 11)">.</text><text transform="translate(196.20 -20.50) scale(0.3000 0.3162) translate(-4 66)">0</text><text transform="translate(210.20 -3.20) scale(0.2533 0.3423) translate(-4 10)">,</text><text transform="translate(223.30 -13.90) scale(0.3392 0.3000) translate(-3 47)" font-style="italic">α</text><text transform="translate(251.30 -11.10) scale(0.4128 0.2800) translate(-5 46)">=</text><text transform="translate(281.90 -20.00) scale(0.2943 0.3045) translate(-9 66)">1</text><text transform="translate(294.00 -3.20) scale(0.2154 0.2750) translate(-6 11)">.</text><text transform="translate(302.30 -20.50) scale(0.3025 0.3258) translate(-6 65)">5</text><text transform="translate(316.90 -22.80) scale(0.2885 0.3322) translate(-3 69)">)</text></g><g transform="translate(77.0 931.0) rotate(-90)" font-family="'Liberation Serif', 'DejaVu Serif', serif" font-size="100" stroke="#fff" stroke-width="0.8"><text transform="translate(0.00 -13.50) scale(0.2906 0.2882) translate(6 47)" font-style="italic">p</text><text transform="translate(19.10 1.90) scale(0.2143 0.1894) translate(-4 47)" font-style="italic">r</text><text transform="translate(29.80 -22.80) scale(0.2885 0.3322) translate(-4 69)">(</text><text transform="translate(39.60 -13.90) scale(0.3222 0.3130) translate(1 46)" font-style="italic">x</text><text transform="translate(55.00 -3.20) scale(0.3000 0.3346) translate(-4 10)">,</text><text transform="translate(68.40 -19.10) scale(0.3769 0.3368) translate(-4 56)" font-style="italic">t</text><text transform="translate(87.10 -22.80) scale(0.3833 0.3286) translate(-7 70)">|</text><text transform="translate(103.90 -13.90) scale(0.3311 0.3130) translate(1 46)" font-style="italic">x</text><text transform="translate(122.10 -6.00) scale(0.2000 0.2206) translate(-4 66)">0</text><text transform="translate(142.20 -11.10) scale(0.4170 0.2800) translate(-5 46)">=</text><text transform="translate(172.90 -20.50) scale(0.3025 0.3258) translate(-6 65)">5</text><text transform="translate(188.30 -3.20) scale(0.1769 0.2750) translate(-6 11)">.</text><text transform="translate(196.20 -20.50) scale(0.3000 0.3162) translate(-4 66)">0</text><text transform="translate(210.20 -3.20) scale(0.2533 0.3423) translate(-4 10)">,</text><text transform="translate(223.30 -13.90) scale(0.3392 0.3000) translate(-3 47)" font-style="italic">α</text><text transform="translate(251.30 -11.10) scale(0.4128 0.2800) translate(-5 46)">=</text><text transform="translate(281.90 -20.00) scale(0.2943 0.3045) translate(-9 66)">1</text><text transform="translate(294.00 -3.20) scale(0.2154 0.2750) translate(-6 11)">.</text><text transform="translate(302.00 -20.50) scale(0.3000 0.3162) translate(-4 66)">0</text><text transform="translate(316.90 -22.80) scale(0.2885 0.3322) translate(-3 69)">)</text></g><g transform="translate(955.0 900.9) rotate(-90)" font-family="'Liberation Serif', 'DejaVu Serif', serif" font-size="100" stroke="#fff" stroke-width="0.8"><text transform="translate(0.00 -10.20) scale(0.2196 0.2178) translate(6 47)" font-style="italic">p</text><text transform="translate(14.44 1.44) scale(0.1620 0.1431) translate(-4 47)" font-style="italic">r</text><text transform="translate(22.52 -17.23) scale(0.2180 0.2511) translate(-4 69)">(</text><text transform="translate(29.93 -10.51) scale(0.2435 0.2366) translate(1 46)" font-style="italic">x</text><text transform="translate(41.57 -2.42) scale(0.2267 0.2529) translate(-4 10)">,</text><text transform="translate(51.70 -14.44) scale(0.2849 0.2546) translate(-4 56)" font-style="italic">t</text><text transform="translate(65.83 -17.23) scale(0.2897 0.2483) translate(-7 70)">|</text><text transform="translate(78.53 -10.51) scale(0.2503 0.2366) translate(1 46)" font-style="italic">x</text><text transform="translate(92.28 -4.53) scale(0.1512 0.1667) translate(-4 66)">0</text><text transform="translate(107.47 -8.39) scale(0.3152 0.2116) translate(-5 46)">=</text><text transform="translate(130.68 -15.49) scale(0.2286 0.2462) translate(-6 65)">5</text><text transform="translate(142.32 -2.42) scale(0.1337 0.2078) translate(-6 11)">.</text><text transform="translate(148.29 -15.49) scale(0.2267 0.2390) translate(-4 66)">0</text><text transform="translate(158.87 -2.42) scale(0.1915 0.2587) translate(-4 10)">,</text><text transform="translate(168.77 -10.51) scale(0.2564 0.2267) translate(-3 47)" font-style="italic">α</text><text transform="translate(189.93 -8.39) scale(0.3120 0.2116) translate(-5 46)">=</text><text transform="translate(212.08 -15.49) scale(0.2213 0.2390) translate(-4 66)">0</text><text transform="translate(222.21 -2.42) scale(0.1628 0.2078) translate(-6 11)">.</text><text transform="translate(228.48 -15.49) scale(0.2286 0.2462) translate(-6 65)">5</text><text transform="translate(239.51 -17.23) scale(0.2180 0.2511) translate(-3 69)">)</text></g><g font-family="'Liberation Serif', 'DejaVu Serif', serif" font-size="100"><text transform="translate(481.10 489.00) scale(0.4111 0.3674) translate(1 46)" font-style="italic">x</text><text transform="translate(1351.10 483.50) scale(0.4067 0.3609) translate(1 46)" font-style="italic">x</text><text transform="translate(480.00 1028.50) scale(0.4022 0.3609) translate(1 46)" font-style="italic">x</text><text transform="translate(1355.70 1037.00) scale(0.2533 0.2152) translate(1 46)" font-style="italic">x</text></g><g font-family="'Liberation Serif', 'DejaVu Serif', serif" font-size="100"><text transform="translate(0.00 479.00) scale(0.4038 0.5189) translate(-4 69)">(</text><text transform="translate(14.70 493.70) scale(0.5300 0.4354) translate(-3 47)">a</text><text transform="translate(38.20 479.00) scale(0.4154 0.5189) translate(-3 69)">)</text><text transform="translate(867.10 479.00) scale(0.4115 0.5222) translate(-4 69)">(</text><text transform="translate(881.40 481.90) scale(0.5043 0.4671) translate(0 69)">b</text><text transform="translate(908.00 479.00) scale(0.4346 0.5222) translate(-3 69)">)</text><text transform="translate(1.00 1024.20) scale(0.4346 0.5200) translate(-4 69)">(</text><text transform="translate(15.80 1038.40) scale(0.4553 0.4500) translate(-4 47)">c</text><text transform="translate(36.80 1024.20) scale(0.4192 0.5200) translate(-3 69)">)</text><text transform="translate(865.90 1024.20) scale(0.4269 0.5200) translate(-4 69)">(</text><text transform="translate(880.60 1026.80) scale(0.5043 0.4743) translate(-3 69)">d</text><text transform="translate(907.00 1024.20) scale(0.4192 0.5200) translate(-3 69)">)</text></g>
</svg></body></html>
